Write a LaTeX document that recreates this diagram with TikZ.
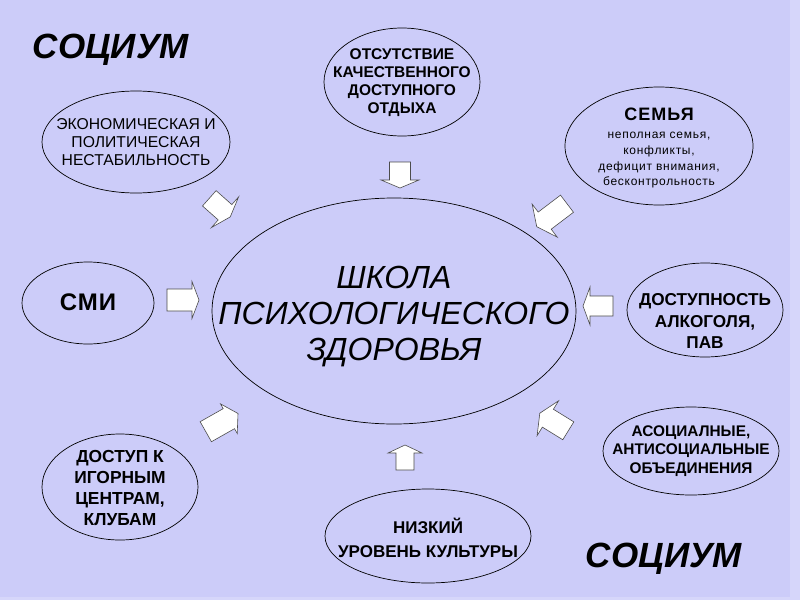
\documentclass[tikz,border=0pt]{standalone}
\usepackage{fontspec}
\setmainfont{Liberation Sans}
\newfontfamily\spacedfont[LetterSpace=6]{Liberation Sans}
\newfontfamily\spacedbold[LetterSpace=4]{Liberation Sans Bold}
\usetikzlibrary{shapes.geometric}
\definecolor{bgcol}{RGB}{204,204,249}
\definecolor{stripcol}{RGB}{214,214,250}
\tikzset{
  ell/.style={ellipse, draw=black, line width=0.7pt, inner sep=0pt},
  txt/.style={inner sep=0pt, align=center, text=black},
  barr/.style={draw=black!70, line width=0.6pt, fill=white, line join=miter},
  socium/.style={font=\fontsize{35}{40}\selectfont\bfseries\itshape, inner sep=0pt}
}
% #1 tail centre, #2 angle, #3 length, #4 shaft width, #5 head width, #6 head length
\newcommand\blockarr[6]{%
  \begin{scope}[shift={(#1)},rotate=#2]
    \draw[barr] (0,{-#4/2}) -- ({#3-#6},{-#4/2}) -- ({#3-#6},{-#5/2}) -- (#3,0)
      -- ({#3-#6},{#5/2}) -- ({#3-#6},{#4/2}) -- (0,{#4/2}) -- cycle;
  \end{scope}}
\begin{document}
\begin{tikzpicture}[x=1pt,y=-1pt]
\useasboundingbox (0,0) rectangle (800,600);
\fill[stripcol] (0,0) rectangle (800,600);
\fill[bgcol] (0,0) rectangle (790,597);

% central ellipse
\node[ell, minimum width=364pt, minimum height=226pt] (school) at (394,311) {};
\node[txt, font=\fontsize{32}{36}\selectfont\itshape] (schooltxt) at (394,317)
  {ШКОЛА\\ПСИХОЛОГИЧЕСКОГО\\ЗДОРОВЬЯ};

% surrounding ellipses
\node[ell, minimum width=156pt, minimum height=108pt] (rest) at (402,82) {};
\node[txt, font=\fontsize{15.5}{18}\selectfont\bfseries] (resttxt) at (402,83)
  {ОТСУТСТВИЕ\\КАЧЕСТВЕННОГО\\ДОСТУПНОГО\\ОТДЫХА};

\node[ell, minimum width=188pt, minimum height=102pt] (econ) at (136,142) {};
\node[txt, font=\fontsize{15.7}{18}\selectfont] (econtxt) at (136,142)
  {ЭКОНОМИЧЕСКАЯ И\\ПОЛИТИЧЕСКАЯ\\НЕСТАБИЛЬНОСТЬ};

\node[ell, minimum width=188pt, minimum height=118pt] (family) at (659,146) {};
\node[txt, font=\fontsize{12}{15.7}\selectfont\spacedfont] (familytxt) at (659,148)
  {\fontsize{18}{20}\selectfont\bfseries СЕМЬЯ\\[3pt]
   \fontsize{12}{15.7}\selectfont\mdseries неполная семья,\\конфликты,\\дефицит внимания,\\бесконтрольность};

\node[ell, minimum width=132pt, minimum height=82pt] (media) at (88,303) {};
\node[txt, font=\fontsize{24}{28}\selectfont\spacedbold] (mediatxt) at (88,302) {СМИ};

\node[ell, minimum width=156pt, minimum height=94pt] (alco) at (705,310) {};
\node[txt, font=\fontsize{17.2}{21.5}\selectfont\bfseries] (alcotxt) at (705,321)
  {ДОСТУПНОСТЬ\\АЛКОГОЛЯ,\\ПАВ};

\node[ell, minimum width=176pt, minimum height=88pt] (asoc) at (691,451) {};
\node[txt, font=\fontsize{15.4}{18.5}\selectfont\bfseries] (asoctxt) at (691,451)
  {АСОЦИАЛНЫЕ,\\АНТИСОЦИАЛЬНЫЕ\\ОБЪЕДИНЕНИЯ};

\node[ell, minimum width=156pt, minimum height=106pt] (games) at (120,487) {};
\node[txt, font=\fontsize{17.4}{20.7}\selectfont\bfseries] (gamestxt) at (120,488)
  {ДОСТУП К\\ИГОРНЫМ\\ЦЕНТРАМ,\\КЛУБАМ};

\node[ell, minimum width=206pt, minimum height=94pt] (culture) at (428,536) {};
\node[txt, font=\fontsize{17}{24}\selectfont\bfseries] (culturetxt) at (428,538)
  {НИЗКИЙ\\УРОВЕНЬ КУЛЬТУРЫ};

% labels
\node[socium] (soc1) at (111,50) {СОЦИУМ};
\node[socium] (soc2) at (664,559) {СОЦИУМ};

% block arrows
\blockarr{400,162}{-90}{26}{21}{38}{8}
\blockarr{167,300}{0}{32}{22}{37}{7}
\blockarr{613,306}{180}{30}{20}{38}{7}
\blockarr{405,470}{90}{25}{18}{34}{8}
\blockarr{209.3,198.3}{-41.6}{28}{20.5}{41}{7}
\blockarr{567,203.7}{-142.8}{38}{21.5}{41.5}{10}
\blockarr{205.8,431.7}{29.5}{37}{23}{34}{10.5}
\blockarr{568.3,430.8}{148.3}{33.5}{21}{41}{9.5}
\end{tikzpicture}
\end{document}
